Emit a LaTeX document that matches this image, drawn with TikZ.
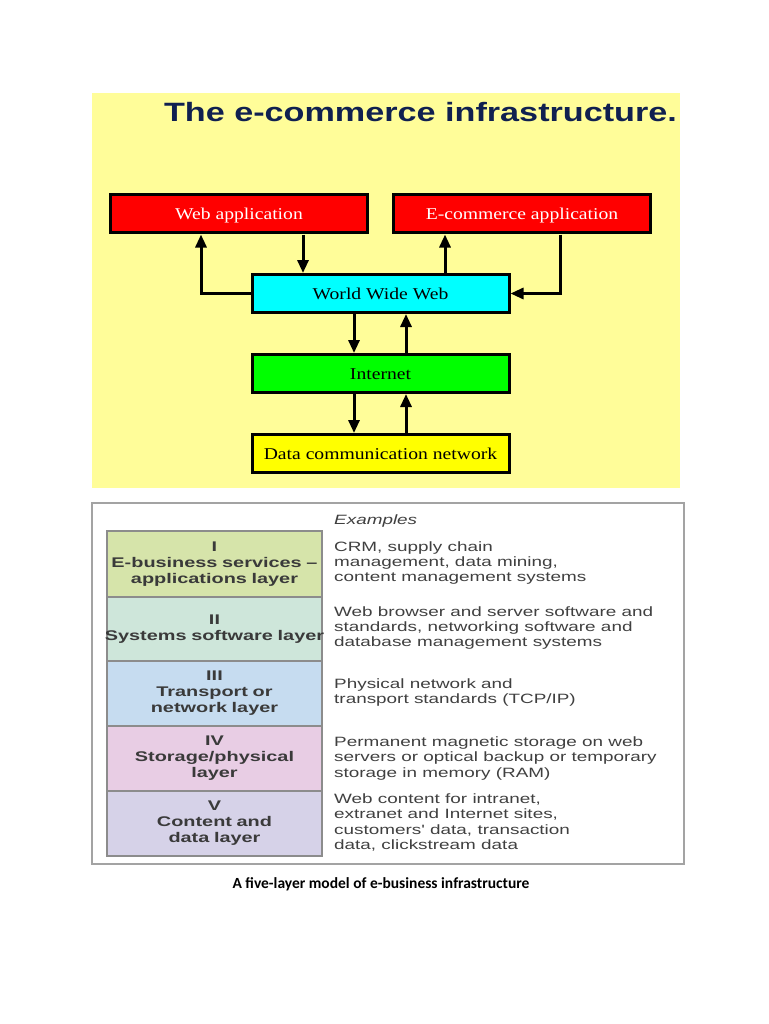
\documentclass[tikz,border=0pt]{standalone}
\usepackage{fontspec}
\usetikzlibrary{arrows.meta}
\newfontfamily\titlef[FakeStretch=1.29]{Liberation Sans}
\newfontfamily\boxf[FakeStretch=1.19]{Liberation Serif}
\newfontfamily\tabf[FakeStretch=1.42]{Liberation Sans}
\newfontfamily\exf[FakeStretch=1.40]{Liberation Sans}
\newfontfamily\capf{Carlito}
\definecolor{bgyellow}{RGB}{255,253,153}
\definecolor{titleblue}{RGB}{16,32,80}
\definecolor{boxred}{RGB}{255,0,0}
\definecolor{boxcyan}{RGB}{0,255,255}
\definecolor{boxgreen}{RGB}{0,255,0}
\definecolor{boxyellow}{RGB}{255,255,0}
\definecolor{rowone}{RGB}{214,228,170}
\definecolor{rowtwo}{RGB}{206,230,218}
\definecolor{rowthree}{RGB}{198,220,240}
\definecolor{rowfour}{RGB}{232,205,228}
\definecolor{rowfive}{RGB}{214,210,232}
\definecolor{rowline}{RGB}{140,140,140}
\definecolor{tabtext}{RGB}{58,58,58}
\definecolor{extext}{RGB}{64,64,64}
\begin{document}
\begin{tikzpicture}[x=1pt,y=-1pt,
  appbox/.style={draw=black, line width=3pt, minimum width=257pt, minimum height=38pt, inner sep=0pt,
    text height=11.5pt, text depth=0pt, font=\boxf\fontsize{16.5}{18}\selectfont},
  arr/.style={line width=3pt, -{Triangle[length=13pt,width=11pt]}},
  layerbox/.style={draw=rowline, line width=1.2pt, minimum width=215pt, text width=213pt, inner sep=1pt,
    align=center, text=tabtext, font=\tabf\bfseries\fontsize{14}{16}\selectfont},
  extxt/.style={anchor=west, inner sep=0pt, align=left, text=extext,
    font=\exf\fontsize{13.5}{15.3}\selectfont}]
\useasboundingbox[fill=white] (0,0) rectangle (768,1024);
% top panel
\fill[bgyellow] (92,93) rectangle (680,488);
\node[anchor=base, inner sep=0pt, text=titleblue, font=\titlef\bfseries\fontsize{26.5}{30}\selectfont]
  (title) at (420.5,122) {The e-commerce infrastructure.};
\node[appbox, fill=boxred, text=white] (webapp) at (239,214) {Web application};
\node[appbox, fill=boxred, text=white] (ecom) at (522,214) {E-commerce application};
\node[appbox, fill=boxcyan] (www) at (380.5,293.5) {World Wide Web};
\node[appbox, fill=boxgreen] (inet) at (380.5,373.5) {Internet};
\node[appbox, fill=boxyellow] (dcn) at (380.5,453.5) {Data communication network};
\coordinate (xa) at (201,0);
\coordinate (xb) at (303,0);
\coordinate (xc) at (445,0);
\coordinate (xd) at (560,0);
\coordinate (xdn) at (354,0);
\coordinate (xup) at (406,0);
\draw[arr] (www.west) -| (webapp.south -| xa);
\draw[arr] (webapp.south -| xb) -- (www.north -| xb);
\draw[arr] (www.north -| xc) -- (ecom.south -| xc);
\draw[arr] (ecom.south -| xd) |- (www.east);
\draw[arr] (www.south -| xdn) -- (inet.north -| xdn);
\draw[arr] (inet.north -| xup) -- (www.south -| xup);
\draw[arr] (inet.south -| xdn) -- (dcn.north -| xdn);
\draw[arr] (dcn.north -| xup) -- (inet.south -| xup);
% bottom panel
\draw[draw=rowline!80, line width=1.5pt, fill=white] (92,503) rectangle (684,864);
\node[anchor=west, inner sep=0pt, text=extext, font=\exf\itshape\fontsize{13.5}{15.3}\selectfont]
  (examples) at (334,521) {Examples};
\node[layerbox, fill=rowone, minimum height=66pt] (l1) at (214.5,564) {I\\\makebox[\linewidth][c]{E-business services –}\\applications layer};
\node[layerbox, fill=rowtwo, minimum height=64pt] (l2) at (214.5,629) {II\\\makebox[\linewidth][c]{Systems software layer}};
\node[layerbox, fill=rowthree, minimum height=65pt] (l3) at (214.5,693.5) {III\\Transport or\\network layer};
\node[layerbox, fill=rowfour, minimum height=65pt] (l4) at (214.5,758.5) {IV\\Storage/physical\\layer};
\node[layerbox, fill=rowfive, minimum height=65pt] (l5) at (214.5,823.5) {V\\Content and\\data layer};
\node[extxt] (e1) at (334,563) {CRM, supply chain\\management, data mining,\\content management systems};
\node[extxt] (e2) at (334,628) {Web browser and server software and\\standards, networking software and\\database management systems};
\node[extxt] (e3) at (334,692.5) {Physical network and\\transport standards (TCP/IP)};
\node[extxt] (e4) at (334,758.5) {Permanent magnetic storage on web\\servers or optical backup or temporary\\storage in memory (RAM)};
\node[extxt] (e5) at (334,822.5) {Web content for intranet,\\extranet and Internet sites,\\customers' data, transaction\\data, clickstream data};
\node[inner sep=0pt, font=\capf\bfseries\fontsize{15.5}{18}\selectfont] (caption) at (381,884)
  {A five-layer model of e-business infrastructure};
\end{tikzpicture}
\end{document}
